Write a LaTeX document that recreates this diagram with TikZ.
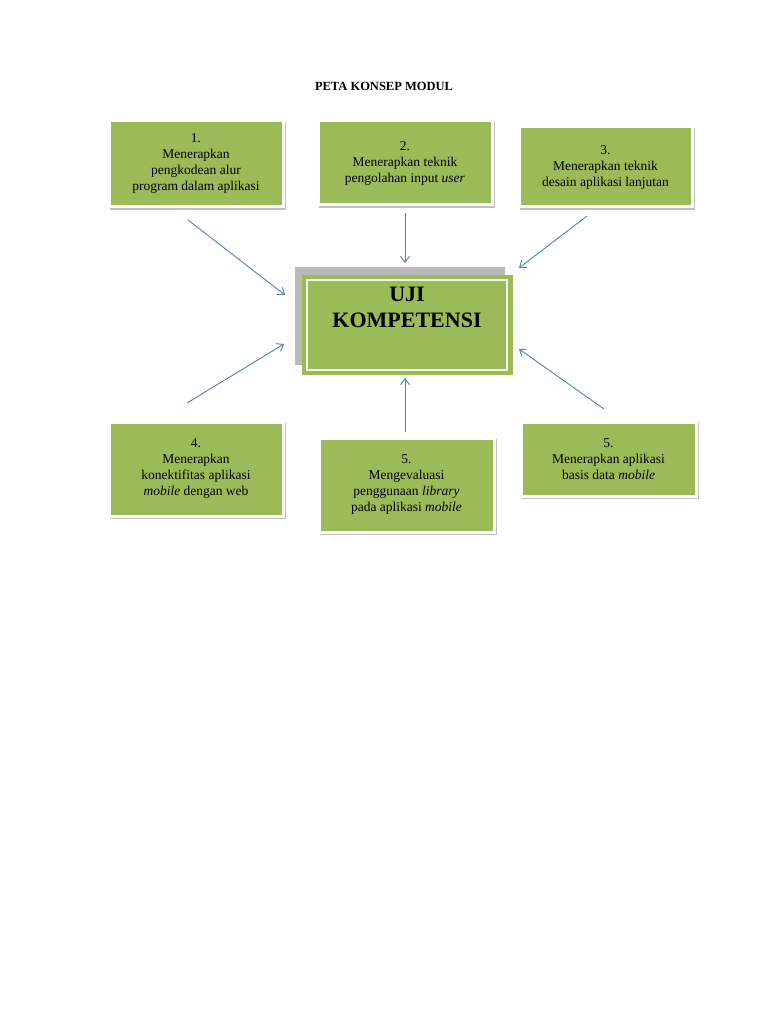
\documentclass[tikz,border=0pt]{standalone}
\usepackage{fontspec}
\setmainfont{Liberation Serif}
\usetikzlibrary{arrows.meta}
\definecolor{gr}{HTML}{9BBB59}
\definecolor{bl}{HTML}{4F81BD}
\begin{document}
\begin{tikzpicture}[x=1pt,y=-1pt,
  box/.style={fill=gr,draw=white,line width=3pt,align=center,font=\fontsize{13.5}{16}\selectfont,inner sep=0pt},
  shd/.style={fill=black!25},
  arr/.style={draw=bl,line width=0.9pt,-{Straight Barb[length=6pt,width=9pt]}}]
\useasboundingbox (0,0) rectangle (768,1024);
\fill[white] (0,0) rectangle (768,1024);
\node[font=\bfseries\fontsize{12.5}{15}\selectfont] (title) at (384,86) {PETA KONSEP MODUL};
% shadows
\foreach \a/\b/\c/\d in {108/120/284/208, 317/120/493/206, 518/126/693/208, 108/421/284/517, 318/437/495/533, 520/421/697/497}
  \fill[shd] (\a+2,\b+2) rectangle (\c+2,\d+2);
\node[box,minimum width=174pt,minimum height=86pt] (b1) at (196,164) {1.\\Menerapkan\\pengkodean alur\\program dalam aplikasi};
\node[box,minimum width=174pt,minimum height=84pt] (b2) at (405,163) {2.\\Menerapkan teknik\\pengolahan input \textit{user}};
\node[box,minimum width=173pt,minimum height=80pt] (b3) at (605.5,167) {3.\\Menerapkan teknik\\desain aplikasi lanjutan};
\node[box,minimum width=174pt,minimum height=94pt] (b4) at (196,469) {4.\\Menerapkan\\konektifitas aplikasi\\\textit{mobile} dengan web};
\node[box,minimum width=175pt,minimum height=94pt] (b5) at (406.5,485) {5.\\Mengevaluasi\\penggunaan \textit{library}\\pada aplikasi \textit{mobile}};
\node[box,minimum width=175pt,minimum height=74pt] (b6) at (608.5,459) {5.\\Menerapkan aplikasi\\basis data \textit{mobile}};
% center
\fill[black!27] (295,267) rectangle (505,365);
\fill[gr] (302,275) rectangle (513,375);
\node[draw=white!85!gr,line width=1.5pt,minimum width=200pt,minimum height=90pt,align=center,font=\bfseries\fontsize{22}{26}\selectfont,text depth=0pt] (c) at (407,325) {UJI\\KOMPETENSI\\[10pt]};
\coordinate (s1) at (188,220); \coordinate (e1) at (285,295);
\coordinate (s2) at (405,213); \coordinate (e2) at (405,263);
\coordinate (s3) at (587,216); \coordinate (e3) at (519,268);
\coordinate (s4) at (187,403); \coordinate (e4) at (284,344);
\coordinate (s5) at (405,432); \coordinate (e5) at (405,378);
\coordinate (s6) at (604,409); \coordinate (e6) at (519,349);
\foreach \i in {1,...,6} \draw[arr] (s\i) -- (e\i);
\end{tikzpicture}
\end{document}
